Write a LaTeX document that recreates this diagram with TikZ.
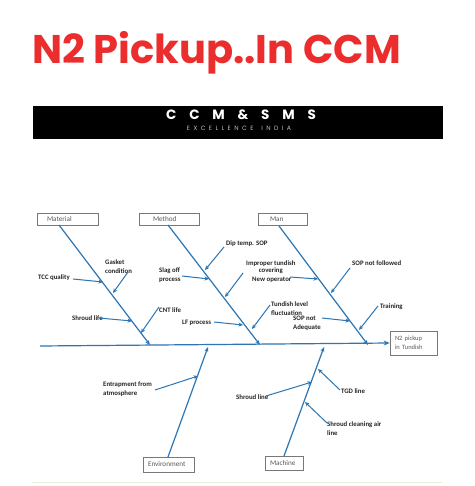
\documentclass[tikz,border=0pt]{standalone}
\usepackage{fontspec}
\setmainfont{Carlito}
\newfontfamily\titlefont{Poppins}
\usetikzlibrary{arrows.meta}
\definecolor{fishblue}{RGB}{44,118,180}
\definecolor{titlered}{RGB}{235,45,45}
\definecolor{boxgray}{RGB}{120,120,120}
\definecolor{textgray}{RGB}{90,90,90}
\definecolor{beige}{RGB}{238,236,222}
\tikzset{
  bone/.style={draw=fishblue, line width=1.2pt},
  sub/.style={draw=fishblue, line width=1pt, -{Stealth[length=4.5pt,width=4pt]}},
  headbox/.style={draw=boxgray, line width=0.7pt, minimum height=12pt, inner ysep=0pt, align=left, font=\fontsize{7.2}{8}\selectfont, text=textgray},
  lbl/.style={font=\bfseries\fontsize{6.8}{9}\selectfont, text=black!85, inner sep=0pt, anchor=west, align=left},
}
\begin{document}
\begin{tikzpicture}[x=1pt,y=-1pt]
\useasboundingbox (0,0) rectangle (474,486);
\fill[white] (0,0) rectangle (474,486);
% title
\node[font=\titlefont\bfseries\fontsize{40}{44}\selectfont, text=titlered, inner sep=0pt, anchor=west] (title) at (32,53) {N2 Pickup..In CCM};
% banner
\fill[black] (33,106) rectangle (443,139);
\node[font=\titlefont\bfseries\fontsize{13.5}{14}\selectfont\addfontfeature{LetterSpace=95}, text=white, inner sep=0pt] (brand) at (241,114.5) {CCM\&SMS};
\node[font=\titlefont\fontsize{6.2}{7}\selectfont, text=black!25, inner sep=0pt] (tag) at (239,128.5) {\addfontfeature{LetterSpace=55}EXCELLENCE\hspace{8pt}\addfontfeature{LetterSpace=55}INDIA};
% bottom rule
\draw[beige, line width=0.8pt] (32,482) -- (442,482);

% heads
\node[headbox, text width=41pt, inner xsep=10pt] (material) at (67.5,219) {Material};
\node[headbox, text width=32pt, inner xsep=14pt] (method) at (169,219) {Method};
\node[headbox, text width=25pt, inner xsep=12pt] (man) at (282.5,219.5) {Man};
\node[headbox, text width=41pt, inner xsep=5pt, minimum height=15pt] (environment) at (168.5,464.5) {Environment};
\node[headbox, text width=28pt, inner xsep=5pt, minimum height=14pt] (machine) at (284,463) {Machine};
\node[headbox, text width=37pt, inner xsep=5pt, minimum height=24pt, font=\fontsize{6.5}{9.5}\selectfont] (effect) at (413.5,343) {N2 pickup\\in Tundish};

% bone coordinates
\coordinate (tail) at (40,346);
\coordinate (mat0) at (59,225);
\coordinate (mat1) at (150,345);
\coordinate (met0) at (168,225);
\coordinate (met1) at (260,345);
\coordinate (man0) at (279,226);
\coordinate (man1) at (368,345);
\coordinate (env0) at (168,457);
\coordinate (env1) at (208,347);
\coordinate (mac0) at (284,456);
\coordinate (mac1) at (324,347);

\draw[bone, -{Stealth[length=6pt,width=5pt]}] (tail) -- (effect.west);
\draw[bone, -{Stealth[length=5pt,width=4pt]}] (mat0) -- (mat1);
\draw[bone, -{Stealth[length=5pt,width=4pt]}] (met0) -- (met1);
\draw[bone, -{Stealth[length=5pt,width=4pt]}] (man0) -- (man1);
\draw[bone, -{Stealth[length=5pt,width=4pt]}] (env0) -- (env1);
\draw[bone, -{Stealth[length=5pt,width=4pt]}] (mac0) -- (mac1);

% sub-cause labels
\node[lbl] (tcc) at (38,278) {TCC quality};
\node[lbl] (gasket) at (105,266.5) {Gasket\\condition};
\node[lbl] (shroudlife) at (72,318) {Shroud life};
\node[lbl] (cnt) at (159,310) {CNT life};
\node[lbl] (dip) at (226,244) {Dip temp. SOP};
\node[lbl] (slag) at (159,275.5) {Slag off\\process};
\node[lbl, align=center, font=\bfseries\fontsize{6.8}{5.5}\selectfont] (improper) at (246,267.5) {Improper tundish\\covering};
\node[lbl] (newop) at (252,280) {New operator};
\node[lbl] (lf) at (182,323) {LF process};
\node[lbl] (tundish) at (271,308.5) {Tundish level\\fluctuation};
\node[lbl] (sopnf) at (352,263) {SOP not followed};
\node[lbl] (sopna) at (293,323.5) {SOP not\\Adequate};
\node[lbl] (training) at (380,307) {Training};
\node[lbl] (entrap) at (103,389.5) {Entrapment from\\atmosphere};
\node[lbl] (shroudline) at (236,397) {Shroud line};
\node[lbl] (tgd) at (341,391) {TGD line};
\node[lbl] (cleaning) at (327,429) {Shroud cleaning air\\line};

% sub-cause arrow endpoints
\coordinate (tccS) at (73,279);   \coordinate (tccE) at (103,282);
\coordinate (gasS) at (128,272);  \coordinate (gasE) at (113,293);
\coordinate (shlS) at (99,318);   \coordinate (shlE) at (132,321);
\coordinate (cntS) at (159,307);  \coordinate (cntE) at (141,333);
\coordinate (dipS) at (224,247);  \coordinate (dipE) at (205,270);
\coordinate (slaS) at (182,276);  \coordinate (slaE) at (209,279);
\coordinate (impS) at (243,273);  \coordinate (impE) at (225,297);
\coordinate (newS) at (290,277);  \coordinate (newE) at (318,279);
\coordinate (lfS) at (214,322);   \coordinate (lfE) at (243,325);
\coordinate (tunS) at (270,305);  \coordinate (tunE) at (252,329);
\coordinate (snfS) at (350,268);  \coordinate (snfE) at (331,293);
\coordinate (snaS) at (322,318);  \coordinate (snaE) at (350,321);
\coordinate (traS) at (378,306);  \coordinate (traE) at (359,330);
\coordinate (entS) at (155,390);  \coordinate (entE) at (198,376);
\coordinate (shS) at (266,396);   \coordinate (shE) at (312,382);
\coordinate (tgdS) at (340,390);  \coordinate (tgdE) at (318,369);
\coordinate (clnS) at (327,423);  \coordinate (clnE) at (305,402);

\draw[sub] (tccS) -- (tccE);
\draw[sub] (gasS) -- (gasE);
\draw[sub] (shlS) -- (shlE);
\draw[sub] (cntS) -- (cntE);
\draw[sub] (dipS) -- (dipE);
\draw[sub] (slaS) -- (slaE);
\draw[sub] (impS) -- (impE);
\draw[sub] (newS) -- (newE);
\draw[sub] (lfS) -- (lfE);
\draw[sub] (tunS) -- (tunE);
\draw[sub] (snfS) -- (snfE);
\draw[sub] (snaS) -- (snaE);
\draw[sub] (traS) -- (traE);
\draw[sub] (entS) -- (entE);
\draw[sub] (shS) -- (shE);
\draw[sub] (tgdS) -- (tgdE);
\draw[sub] (clnS) -- (clnE);
\end{tikzpicture}
\end{document}
